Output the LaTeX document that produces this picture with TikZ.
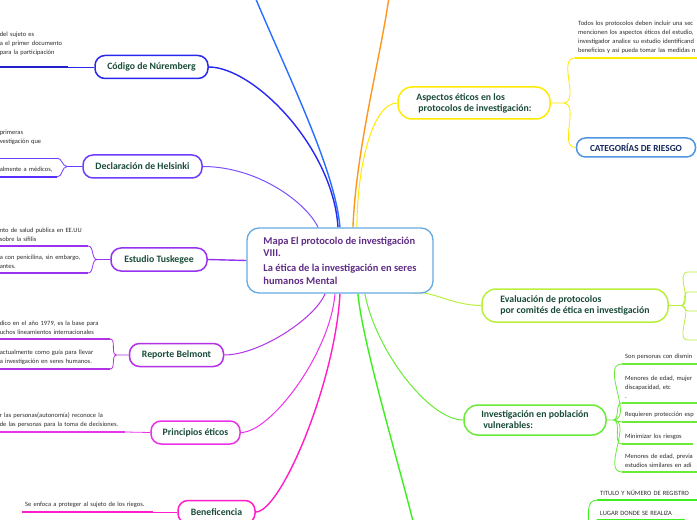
\documentclass[tikz,border=0pt]{standalone}
\usepackage{fontspec}
\setmainfont{Carlito}
\usetikzlibrary{backgrounds}
\definecolor{mapblue}{RGB}{100,170,225}
\definecolor{mapviolet}{RGB}{95,45,135}
\definecolor{nodegreen}{RGB}{25,75,55}
\definecolor{leafgray}{RGB}{45,45,45}
\definecolor{nurblue}{RGB}{40,40,240}
\definecolor{topblue}{RGB}{40,110,255}
\definecolor{helviolet}{RGB}{110,60,255}
\definecolor{tuspurple}{RGB}{150,50,240}
\definecolor{belpurple}{RGB}{180,50,230}
\definecolor{primagenta}{RGB}{235,50,235}
\definecolor{benpink}{RGB}{255,30,200}
\definecolor{toporange}{RGB}{255,150,30}
\definecolor{aspyellow}{RGB}{255,235,0}
\definecolor{catblue}{RGB}{80,150,225}
\definecolor{catnavy}{RGB}{20,40,90}
\definecolor{evalime}{RGB}{185,240,60}
\definecolor{invgreen}{RGB}{105,235,55}
\definecolor{botgreen}{RGB}{60,240,30}

\begin{document}
\begin{tikzpicture}[x=1bp, y=-1bp,
  mapbox/.style={rectangle, rounded corners=12bp, draw=mapblue, line width=1.3bp, fill=white, minimum width=186bp, minimum height=65bp, align=left, text=mapviolet, font=\fontsize{10.5}{12.5}\selectfont\bfseries},
  topic/.style={rectangle, rounded corners=10bp, draw=#1, line width=1.5bp, fill=white, minimum height=23bp, inner sep=2bp, align=left, text=nodegreen, font=\fontsize{9.8}{11}\selectfont\bfseries},
  leaf/.style={align=left, text=leafgray, font=\fontsize{6.5}{9}\selectfont, inner xsep=3bp, inner ysep=4.5bp},
  lleaf/.style={leaf, anchor=south east},
  rleaf/.style={leaf, anchor=south west},
  uline/.style={line width=1.8bp},
  twig/.style={line width=0.8bp},
  branch/.style={line width=1.4bp}
]
\useasboundingbox (0,0) rectangle (697,520);

% central topic
\node[mapbox] (map) at (340,260.5) {Mapa El protocolo de investigación\\VIII.\\[2.5bp]La ética de la investigación en seres\\humanos Mental};

% left side
\node[topic=nurblue, minimum width=113bp] (nur) at (151.5,67) {Código de Núremberg};
\node[topic=helviolet, minimum width=119bp] (hel) at (142.5,166.5) {Declaración de Helsinki};
\node[topic=tuspurple, minimum width=96bp] (tus) at (159,259.5) {Estudio Tuskegee};
\node[topic=belpurple, minimum width=94bp] (bel) at (176.5,355) {Reporte Belmont};
\node[topic=primagenta, minimum width=89bp] (pri) at (195.5,432.5) {Principios éticos};
\node[topic=benpink, minimum width=77bp] (ben) at (216.5,512) {Beneficencia};

\node[lleaf, text width=65bp, inner ysep=11.5bp] (k1) at (68,67) {del sujeto es\\a el primer documento\\para la participación};
\node[lleaf, text width=54bp, inner ysep=13.5bp] (h1) at (57,158) {primeras\\vestigación que};
\node[lleaf, text width=54bp] (h2) at (57,177) {almente a médicos,};
\node[lleaf, text width=85bp] (t1) at (88,246) {nto de salud publica en EE.UU\\sobre la sífilis};
\node[lleaf, text width=85bp] (t2) at (88,273) {a con penicilina, sin embargo,\\antes.};
\node[lleaf, text width=107bp] (b1) at (110,339) {dico en el año 1979, es la base para\\uchos lineamientos internacionales};
\node[lleaf, text width=107bp] (b2) at (110,369) {actualmente como guía para llevar\\a investigación en seres humanos.};
\node[lleaf, text width=122bp] (p1) at (125,432) {r las personas(autonomía) reconoce la\\de las personas para la toma de decisiones.};
\node[rleaf, text width=125bp] (n1) at (22,512) {Se enfoca a proteger al sujeto de los riegos.};

% right side
\node[topic=aspyellow, minimum width=152bp, minimum height=32bp, rounded corners=14bp] (asp) at (474,103) {Aspectos éticos en los\\\hspace*{2bp}protocolos de investigación:};
\node[topic=catblue, text=catnavy, font=\fontsize{9.3}{11}\selectfont\bfseries, minimum width=119bp, minimum height=19bp, rounded corners=9bp] (cat) at (636,147.5) {CATEGORÍAS DE RIESGO};
\node[topic=evalime, minimum width=186bp, minimum height=33bp, rounded corners=14bp] (eva) at (575,305.5) {Evaluación de protocolos\\por comités de ética en investigación};
\node[topic=invgreen, minimum width=142bp, minimum height=30bp, rounded corners=14bp] (inv) at (535,420) {Investigación en población\\\hspace*{2bp}vulnerables:};

\node[rleaf, text width=150bp] (a1) at (575,58) {Todos los protocolos deben incluir una sec\\mencionen los aspectos éticos del estudio,\\investigador analice su estudio identificand\\beneficios y así pueda tomar las medidas n};
\node[rleaf, text width=110bp] (i1) at (622,364) {Son personas con dismin};
\node[rleaf, text width=110bp] (i2) at (622,403) {Menores de edad, mujer\\discapacidad, etc\\.};
\node[rleaf, text width=110bp] (i3) at (622,422) {Requieren protección esp};
\node[rleaf, text width=65bp] (i4) at (622,444) {Minimizar los riesgos};
\node[rleaf, text width=110bp] (i5) at (622,472) {Menores de edad, previa\\estudios similares en adi};
\node[rleaf, text width=110bp] (r1) at (597,500) {TITULO Y NÚMERO DE REGISTRO};
\node[rleaf, text width=82bp] (r2) at (597,520) {LUGAR DONDE SE REALIZA};

\coordinate (topb) at (255,-3);
\coordinate (topo) at (389,-3);
\coordinate (botg) at (414,525);
\coordinate (botf) at (589,530);
\coordinate (e1) at (688,272);
\coordinate (e2) at (688,292);
\coordinate (e3) at (688,311);
\coordinate (e4) at (688,340);

\begin{scope}[on background layer]
\fill[white] (0,0) rectangle (697,520);
% branches to the central topic
\draw[branch, topblue] (topb) .. controls (290,80) and (335,170) .. (map.north);
\draw[branch, nurblue] (nur.east) .. controls +(45,0) and +(-5,-80) .. ([xshift=-2]map.north);
\draw[twig, helviolet!90!white, line width=1bp] (hel.east) .. controls +(55,0) and +(-12,-25) .. ([xshift=-22]map.north);
\draw[branch, tuspurple] (tus.east) -- (map.west);
\draw[twig, belpurple, line width=1bp] (bel.east) .. controls +(35,0) and +(-10,25) .. ([xshift=-15]map.south);
\draw[twig, primagenta, line width=1bp] (pri.east) .. controls +(30,0) and +(-5,60) .. ([xshift=-5]map.south);
\draw[branch, benpink] (ben.east) .. controls +(25,0) and +(-5,90) .. (map.south);
\draw[branch, toporange] (topo) .. controls (380,60) and (356,150) .. ([xshift=13]map.north);
\draw[twig, aspyellow, line width=1bp] (asp.west) .. controls +(-25,0) and +(0,-60) .. ([xshift=17]map.north);
\draw[twig, evalime, line width=1bp] (eva.west) .. controls +(-30,0) and +(15,-5) .. ([xshift=-20]map.south east);
\draw[twig, invgreen, line width=1bp] (inv.west) .. controls +(-35,0) and +(10,55) .. ([xshift=25]map.south);
\draw[branch, botgreen] (botg) .. controls (395,450) and (362,340) .. ([xshift=18]map.south);
% twigs to the leaves
\draw[twig, nurblue] (nur.west) -- (k1.south east);
\draw[twig, helviolet] (hel.west) -- +(-15,0) coordinate (hf) to[out=180,in=0] (h1.south east) (hf) to[out=180,in=0] (h2.south east);
\draw[twig, tuspurple] (tus.west) -- +(-13,0) coordinate (tf) to[out=180,in=0] (t1.south east) (tf) to[out=180,in=0] (t2.south east);
\draw[twig, belpurple] (bel.west) -- +(-12,0) coordinate (bf) to[out=180,in=0] (b1.south east) (bf) to[out=180,in=0] (b2.south east);
\draw[twig, primagenta] (pri.west) -- (p1.south east);
\draw[twig, benpink] (ben.west) -- (n1.south east);
\draw[twig, aspyellow] (asp.east) -- +(12,0) coordinate (af) to[out=0,in=180] (a1.south west) (af) to[out=0,in=180] (cat.west);
\draw[twig, evalime] (eva.east) -- +(12,0) coordinate (ef)
  foreach \e in {e1,e2,e3,e4} {(ef) to[out=0,in=180] (\e) -- +(15,0)};
\draw[twig, invgreen] (inv.east) -- +(6,0) coordinate (vf)
  foreach \i in {i1,i2,i3,i4,i5} {(vf) to[out=0,in=180] (\i.south west)};
\draw[twig, botgreen] (botf) to[out=90,in=180] (r1.south west) (botf) to[out=90,in=180] (r2.south west);
% underlines
\draw[uline, nurblue!85!black] (k1.south west) -- (k1.south east);
\draw[twig, helviolet] (h1.south west) -- (h1.south east);
\draw[uline, helviolet!80!blue] (h2.south west) -- (h2.south east);
\foreach \l in {t1,t2} \draw[uline, tuspurple] (\l.south west) -- (\l.south east);
\foreach \l in {b1,b2} \draw[uline, belpurple] (\l.south west) -- (\l.south east);
\draw[uline, primagenta] (p1.south west) -- (p1.south east);
\draw[uline, benpink] (n1.south west) -- (n1.south east);
\draw[uline, aspyellow] (a1.south west) -- (a1.south east);
\foreach \l in {i1,i2,i3,i4,i5} \draw[uline, invgreen] (\l.south west) -- (\l.south east);
\foreach \l in {r1,r2} \draw[uline, botgreen] (\l.south west) -- (\l.south east);
\end{scope}
\end{tikzpicture}
\end{document}
